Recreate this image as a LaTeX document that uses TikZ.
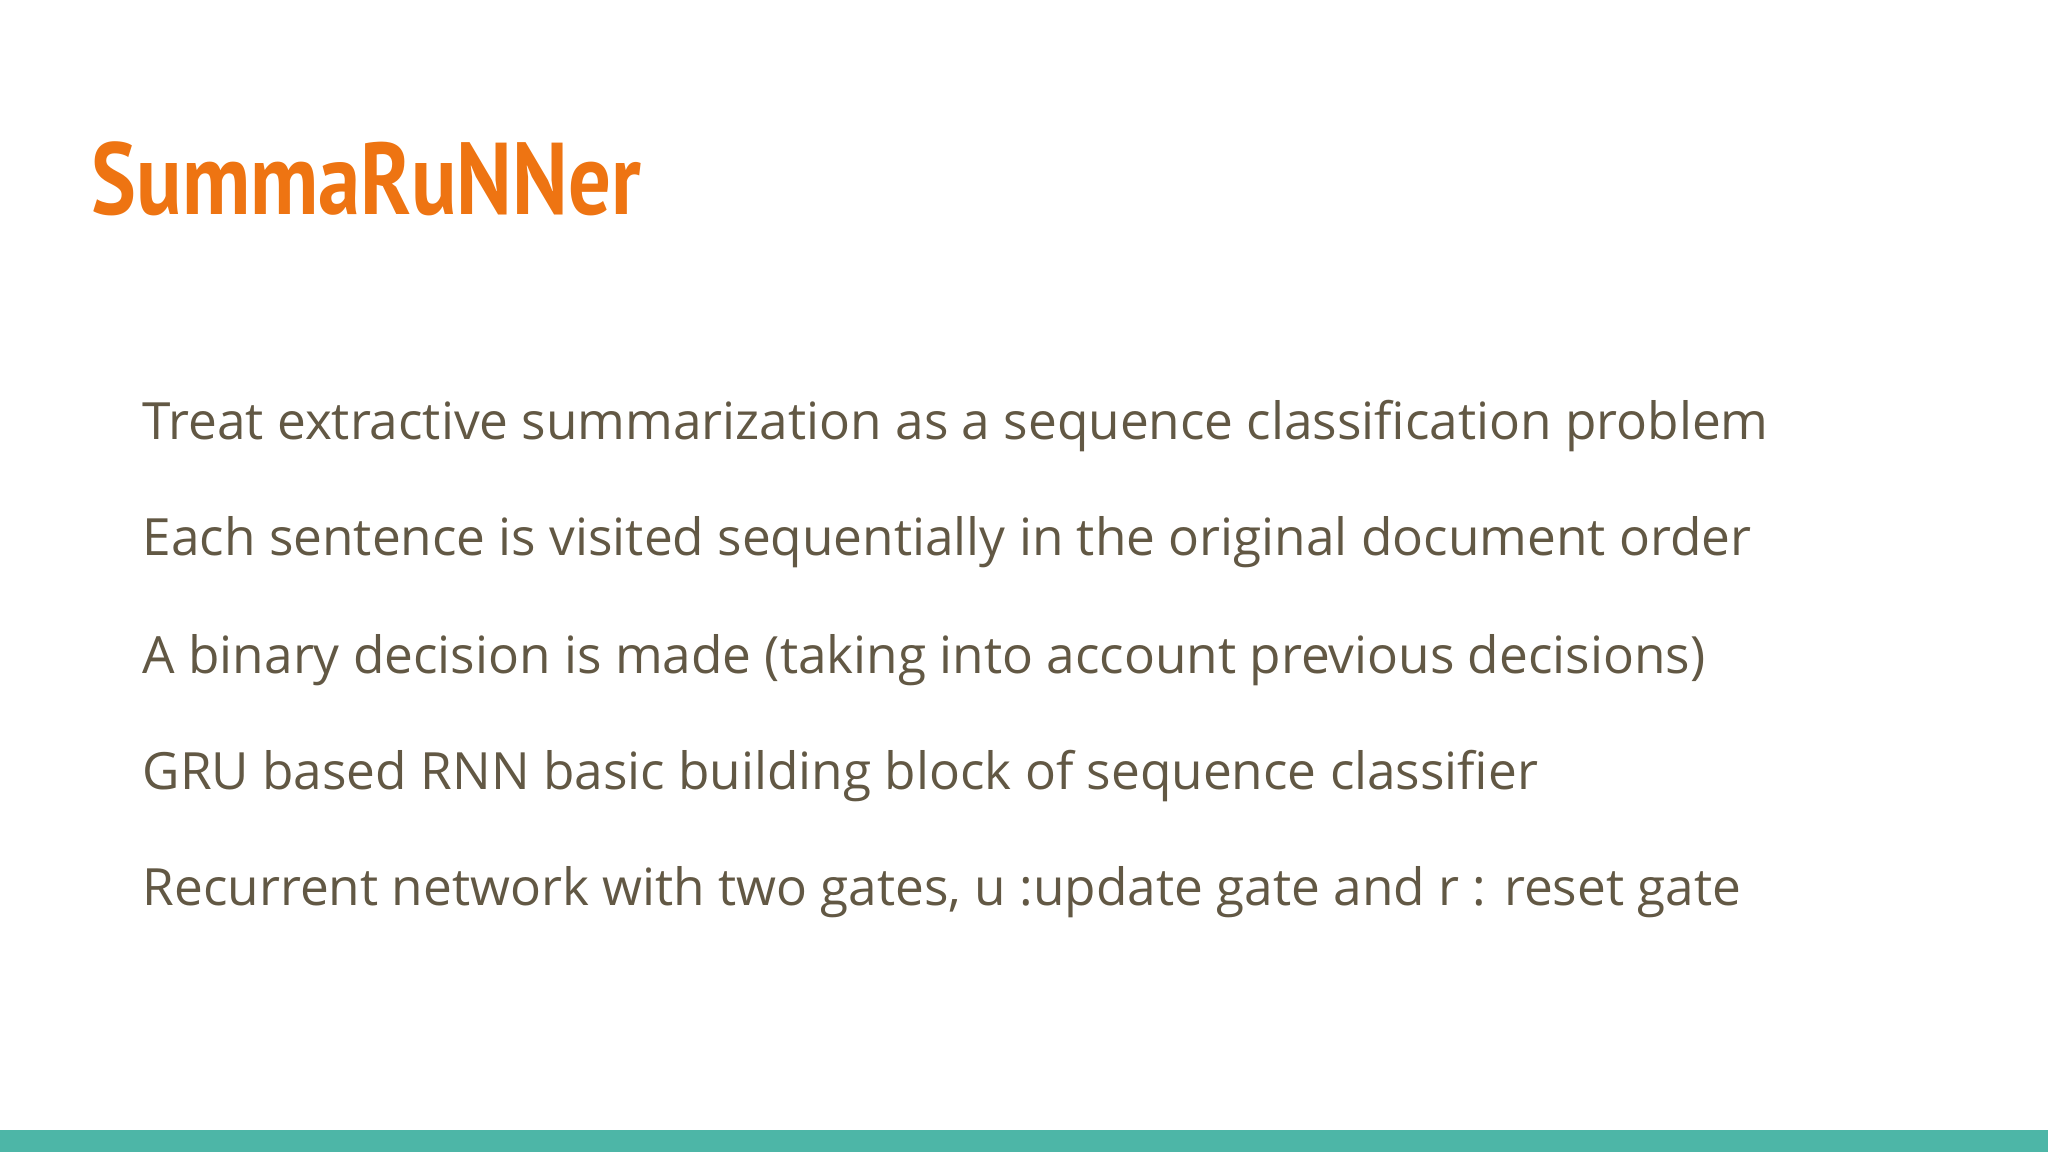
\documentclass[tikz,border=0pt]{standalone}
\usepackage{fontspec}
\setmainfont{Open Sans}
\newfontfamily\titlefont{PT Sans}
\definecolor{bodytxt}{RGB}{98,88,68}
\definecolor{titleor}{RGB}{238,116,18}
\definecolor{barteal}{RGB}{77,182,167}
\begin{document}
\begin{tikzpicture}[x=0.01cm,y=-0.01cm,
  bullet/.style={anchor=base west,inner sep=0pt,text=bodytxt,font=\fontsize{14.6pt}{18pt}\selectfont},
  ttl/.style={anchor=base west,inner sep=0pt,text=titleor,font=\titlefont\bfseries\fontsize{29pt}{34pt}\selectfont}]
\useasboundingbox (0,0) rectangle (2048,1152);
\fill[white] (0,0) rectangle (2048,1152);
\fill[barteal] (0,1130) rectangle (2048,1152);
\node[ttl] (title) at (91,215) {\scalebox{0.83}[1]{SummaRuNNer}};
\node[bullet] (b1) at (142,440) {Treat extractive summarization as a sequence classification problem};
\node[bullet] (b2) at (142,556) {Each sentence is visited sequentially in the original document order};
\node[bullet] (b3) at (142,673) {A binary decision is made (taking into account previous decisions)};
\node[bullet] (b4) at (142,789) {GRU based RNN basic building block of sequence classifier};
\node[bullet] (b5) at (142,905) {Recurrent network with two gates, u :update gate and r : reset gate};
\end{tikzpicture}
\end{document}
